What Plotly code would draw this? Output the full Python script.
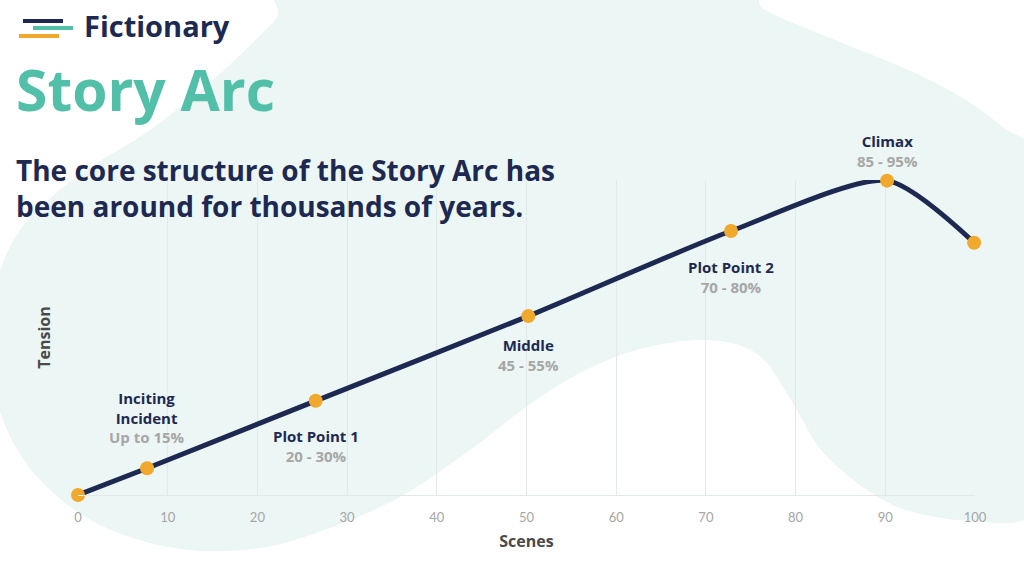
import plotly.graph_objects as go

# ---------------- data ----------------
scene_pct = [0, 7.7, 26.5, 50.2, 72.8, 90.2, 99.9]
tension = [0, 8.5, 29.9, 56.8, 83.8, 99.8, 80.1]

label_x = [7.7, 26.5, 50.2, 72.8, 90.2]
label_y = [8.5, 29.9, 56.8, 83.8, 99.8]
label_names = ["Inciting<br>Incident", "Plot Point 1", "Middle", "Plot Point 2", "Climax"]
label_ranges = ["Up to 15%", "20 - 30%", "45 - 55%", "70 - 80%", "85 - 95%"]
label_shift = [51, -45, -39, -46, 30]   # vertical offset of label block (px, + = up)

x_ticks = [0, 10, 20, 30, 40, 50, 60, 70, 80, 90, 100]

# ---------------- style ----------------
W, H = 1024, 576
NAVY = "#1d2951"
TEAL = "#52bfa8"
ORANGE = "#f0a92c"
MINT = "#ecf6f4"
GREY_TXT = "#a6a6a6"
AXIS_TXT = "#4a4a4a"
GRID = "#e3e8e8"
FONT = "Lato"
HEAD = "Open Sans"

def px(x):
    return x / W

def py(y):
    return 1 - y / H

# background blob (pixel outline, closed Catmull-Rom spline)
blob = [(150, 130), (75, 178), (20, 230), (-5, 290), (-10, 360), (5, 425), (40, 480),
        (100, 525), (180, 549), (260, 548), (330, 528), (400, 497), (470, 450),
        (522, 410), (580, 373), (640, 349), (706, 340), (757, 354), (791, 400),
        (821, 450), (863, 487), (906, 510), (970, 521), (1030, 516), (1060, 450),
        (1060, 190), (1000, 125), (930, 80), (840, 42), (765, 10), (715, -25),
        (310, -25), (275, 20), (215, 78)]

def catmull_path(pts):
    n = len(pts)
    d = "M %.4f,%.4f" % (px(pts[0][0]), py(pts[0][1]))
    for i in range(n):
        p0 = pts[i - 1]
        p1 = pts[i]
        p2 = pts[(i + 1) % n]
        p3 = pts[(i + 2) % n]
        c1 = (p1[0] + (p2[0] - p0[0]) / 6, p1[1] + (p2[1] - p0[1]) / 6)
        c2 = (p2[0] - (p3[0] - p1[0]) / 6, p2[1] - (p3[1] - p1[1]) / 6)
        d += " C %.4f,%.4f %.4f,%.4f %.4f,%.4f" % (
            px(c1[0]), py(c1[1]), px(c2[0]), py(c2[1]), px(p2[0]), py(p2[1]))
    return d + " Z"

fig = go.Figure()
fig.add_trace(go.Scatter(
    x=scene_pct, y=tension, mode="lines",
    line=dict(color=NAVY, width=5, shape="spline", smoothing=0.7),
    hoverinfo="skip", showlegend=False, cliponaxis=False))
fig.add_trace(go.Scatter(
    x=scene_pct, y=tension, mode="markers",
    marker=dict(color=ORANGE, size=14, line=dict(width=0)),
    showlegend=False, cliponaxis=False))

shapes = [dict(type="path", xref="paper", yref="paper", path=catmull_path(blob),
               fillcolor=MINT, line=dict(width=0), layer="below")]
# logo lines
for (x0, x1, yy, col) in [(23, 63, 21, NAVY), (33, 73, 28, TEAL), (19, 59, 36, ORANGE)]:
    shapes.append(dict(type="line", xref="paper", yref="paper",
                       x0=px(x0), x1=px(x1), y0=py(yy), y1=py(yy),
                       line=dict(color=col, width=4)))

annotations = [
    dict(text="<b>Fictionary</b>", x=px(82), y=py(26), xanchor="left", yanchor="middle",
         font=dict(family=HEAD, size=29, color=NAVY)),
    dict(text="<b>Story Arc</b>", x=px(14), y=py(89), xanchor="left", yanchor="middle",
         font=dict(family=HEAD, size=57, color=TEAL)),
    dict(text="<b>The core structure of the Story Arc has<br>been around for thousands of years.</b>",
         x=px(14), y=py(188), xanchor="left", yanchor="middle", align="left",
         font=dict(family=HEAD, size=28, color=NAVY)),
]
for x, y, name, rng, sh in zip(label_x, label_y, label_names, label_ranges, label_shift):
    annotations.append(dict(
        text="<b>%s</b><br><b><span style='color:%s'>%s</span></b>" % (name, GREY_TXT, rng),
        x=x, y=y, xref="x", yref="y", xanchor="center", yanchor="middle",
        yshift=sh, showarrow=False, align="center",
        font=dict(family=HEAD, size=15, color=NAVY)))
for a in annotations:
    a.setdefault("xref", "paper")
    a.setdefault("yref", "paper")
    a.setdefault("showarrow", False)

fig.update_layout(
    width=W, height=H,
    margin=dict(l=0, r=0, t=0, b=0),
    paper_bgcolor="white", plot_bgcolor="rgba(0,0,0,0)",
    shapes=shapes, annotations=annotations,
    font=dict(family=FONT),
    xaxis=dict(domain=[px(78), px(975)], range=[0, 100], tickvals=x_ticks,
               showgrid=True, gridcolor=GRID, gridwidth=1, zeroline=False,
               showline=True, linecolor=GRID, linewidth=1, ticks="",
               ticklabelstandoff=10, automargin=False,
               tickfont=dict(family=FONT, size=13, color=GREY_TXT),
               title=dict(text="<b>Scenes</b>", standoff=12,
                          font=dict(family=HEAD, size=16, color=AXIS_TXT))),
    yaxis=dict(domain=[py(495), py(180)], range=[0, 100], showgrid=False,
               zeroline=False, showticklabels=False, ticks="", showline=False,
               automargin=False,
               title=dict(text="<b>Tension</b>", standoff=22,
                          font=dict(family=HEAD, size=16, color=AXIS_TXT))),
)

fig.write_html("out.html")
